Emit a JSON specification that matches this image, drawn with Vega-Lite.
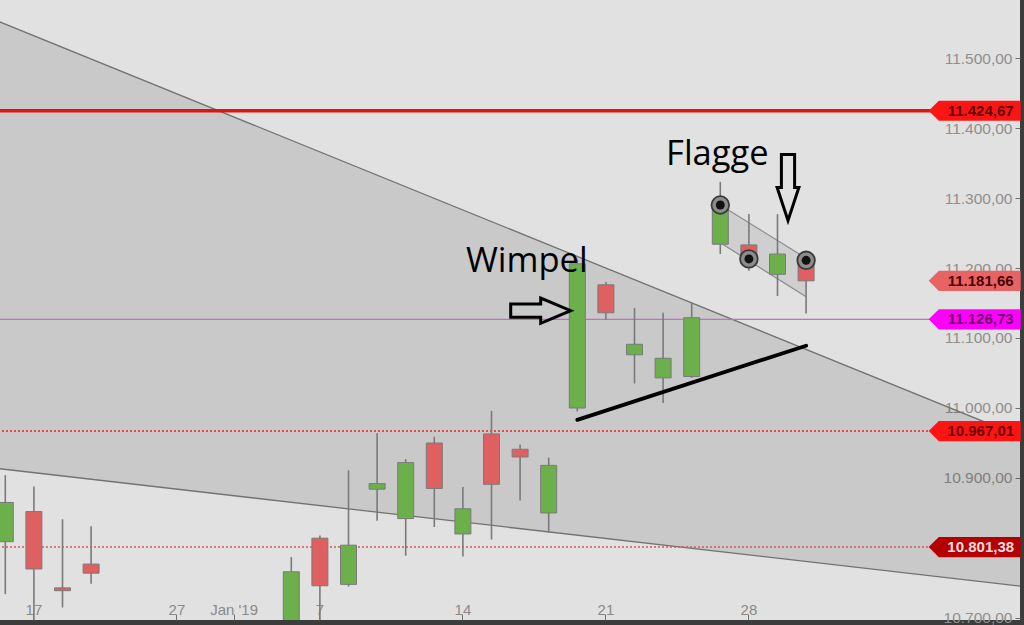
{
  "$schema": "https://vega.github.io/schema/vega-lite/v6.json",
  "width": 1020,
  "height": 620,
  "autosize": {"type": "none"},
  "padding": {"left": 0, "top": 0, "right": 4, "bottom": 5},
  "background": "#3c3c3c",
  "config": {
    "view": {"stroke": null, "fill": "#e1e1e1"},
    "locale": {"number": {"decimal": ",", "thousands": ".", "grouping": [3], "currency": ["", " €"]}},
    "font": "Liberation Sans"
  },
  "datasets": {
    "candles": [
      {"date": "2018-12-14", "open": 10809, "high": 10904, "low": 10734, "close": 10865},
      {"date": "2018-12-17", "open": 10852, "high": 10888, "low": 10690, "close": 10770},
      {"date": "2018-12-18", "open": 10743, "high": 10841, "low": 10715, "close": 10739},
      {"date": "2018-12-19", "open": 10777, "high": 10831, "low": 10749, "close": 10764},
      {"date": "2019-01-04", "open": 10470, "high": 10787, "low": 10450, "close": 10766},
      {"date": "2019-01-07", "open": 10814, "high": 10818, "low": 10692, "close": 10746},
      {"date": "2019-01-08", "open": 10748, "high": 10911, "low": 10745, "close": 10804},
      {"date": "2019-01-09", "open": 10884, "high": 10964, "low": 10839, "close": 10892},
      {"date": "2019-01-10", "open": 10842, "high": 10927, "low": 10789, "close": 10922},
      {"date": "2019-01-11", "open": 10950, "high": 10959, "low": 10830, "close": 10885},
      {"date": "2019-01-14", "open": 10820, "high": 10887, "low": 10788, "close": 10856},
      {"date": "2019-01-15", "open": 10963, "high": 10996, "low": 10812, "close": 10891},
      {"date": "2019-01-16", "open": 10941, "high": 10948, "low": 10868, "close": 10930},
      {"date": "2019-01-17", "open": 10850, "high": 10929, "low": 10822, "close": 10918},
      {"date": "2019-01-18", "open": 11000, "high": 11212, "low": 10995, "close": 11206},
      {"date": "2019-01-21", "open": 11176, "high": 11180, "low": 11126, "close": 11136},
      {"date": "2019-01-22", "open": 11076, "high": 11143, "low": 11035, "close": 11091},
      {"date": "2019-01-23", "open": 11043, "high": 11136, "low": 11007, "close": 11071},
      {"date": "2019-01-24", "open": 11045, "high": 11150, "low": 11043, "close": 11129},
      {"date": "2019-01-25", "open": 11234, "high": 11323, "low": 11220, "close": 11283},
      {"date": "2019-01-28", "open": 11233, "high": 11277, "low": 11196, "close": 11210},
      {"date": "2019-01-29", "open": 11191, "high": 11277, "low": 11160, "close": 11220},
      {"date": "2019-01-30", "open": 11207, "high": 11222, "low": 11135, "close": 11181.66}
    ],
    "channel": [
      {"date": "2018-12-13", "upper": 11565, "lower": 10917},
      {"date": "2019-02-11", "upper": 10951, "lower": 10743}
    ],
    "flag": [
      {"date": "2019-01-25", "top": 11290, "bottom": 11236},
      {"date": "2019-01-30", "top": 11214, "bottom": 11159}
    ],
    "markers": [
      {"date": "2019-01-25", "value": 11290},
      {"date": "2019-01-28", "value": 11213},
      {"date": "2019-01-30", "value": 11211}
    ],
    "trend": [
      {"date": "2019-01-18", "value": 10983},
      {"date": "2019-01-30", "value": 11089}
    ],
    "levels": [
      {"name": "res", "value": 11424.67},
      {"name": "last", "value": 11181.66},
      {"name": "pivot", "value": 11126.73},
      {"name": "sup1", "value": 10967.01},
      {"name": "sup2", "value": 10801.38}
    ],
    "arrows": [
      {"name": "wimpel", "date": "2019-01-17", "value": 11139},
      {"name": "flagge", "date": "2019-01-29", "value": 11315}
    ],
    "notes": [
      {"label": "Wimpel", "date": "2019-01-14", "value": 11194},
      {"label": "Flagge", "date": "2019-01-23", "value": 11347}
    ]
  },
  "layer": [
    {
      "data": {"name": "channel"},
      "mark": {"type": "area", "fill": "#000000", "fillOpacity": 0.105, "clip": true},
      "encoding": {
        "x": {
          "field": "date", "type": "ordinal", "bandPosition": 0.5, "title": null,
          "scale": {
            "type": "band",
            "domain": ["2018-12-13","2018-12-14","2018-12-17","2018-12-18","2018-12-19","2018-12-20","2018-12-21","2018-12-27","2018-12-28","2019-01-02","2019-01-03","2019-01-04","2019-01-07","2019-01-08","2019-01-09","2019-01-10","2019-01-11","2019-01-14","2019-01-15","2019-01-16","2019-01-17","2019-01-18","2019-01-21","2019-01-22","2019-01-23","2019-01-24","2019-01-25","2019-01-28","2019-01-29","2019-01-30","2019-01-31","2019-02-01","2019-02-04","2019-02-05","2019-02-06","2019-02-07","2019-02-08","2019-02-11"],
            "range": [-37.6, 1049.2],
            "paddingInner": 0,
            "paddingOuter": 0
          },
          "axis": {
            "orient": "bottom",
            "values": ["2018-12-17","2018-12-27","2019-01-02","2019-01-07","2019-01-14","2019-01-21","2019-01-28"],
            "labelExpr": "datum.value == '2019-01-02' ? \"Jan '19\" : '' + toNumber(substring(datum.value, 8, 10))",
            "domain": false,
            "grid": false,
            "tickSize": -6,
            "tickColor": "#707070",
            "tickWidth": 1,
            "labelColor": "#8a8a8a",
            "labelFontSize": 15,
            "labelFont": "Liberation Sans",
            "labelPadding": 0,
            "labelBaseline": "alphabetic",
            "labelAngle": 0,
            "labelOverlap": false,
            "labelFlush": false
          }
        },
        "y": {
          "field": "upper", "type": "quantitative", "title": null,
          "scale": {"domain": [10697.1, 11582.9], "nice": false, "zero": false},
          "axis": {
            "orient": "right",
            "values": [10700, 10900, 11000, 11100, 11200, 11300, 11400, 11500],
            "format": ",.2f",
            "domain": false,
            "grid": false,
            "tickSize": -5,
            "tickColor": "#707070",
            "labelAlign": "right",
            "labelBaseline": "middle",
            "labelPadding": -3,
            "labelColor": "#8f8f8f",
            "labelFontSize": 15.5,
            "labelFont": "Liberation Sans",
            "labelFlush": false,
            "labelOverlap": false
          }
        },
        "y2": {"field": "lower"}
      }
    },
    {
      "data": {"name": "channel"},
      "mark": {"type": "line", "stroke": "#727272", "strokeWidth": 1.3, "clip": true},
      "encoding": {
        "x": {"field": "date", "type": "ordinal", "bandPosition": 0.5, "title": null},
        "y": {"field": "upper", "type": "quantitative", "title": null}
      }
    },
    {
      "data": {"name": "channel"},
      "mark": {"type": "line", "stroke": "#727272", "strokeWidth": 1.3, "clip": true},
      "encoding": {
        "x": {"field": "date", "type": "ordinal", "bandPosition": 0.5, "title": null},
        "y": {"field": "lower", "type": "quantitative", "title": null}
      }
    },
    {
      "data": {"name": "levels"},
      "transform": [{"filter": "datum.name == 'res'"}],
      "mark": {"type": "rule", "stroke": "#dc1414", "strokeWidth": 3.5},
      "encoding": {"y": {"field": "value", "type": "quantitative", "title": null}}
    },
    {
      "data": {"name": "levels"},
      "transform": [{"filter": "datum.name == 'pivot'"}],
      "mark": {"type": "rule", "stroke": "#d066d0", "strokeWidth": 1.2},
      "encoding": {"y": {"field": "value", "type": "quantitative", "title": null}}
    },
    {
      "data": {"name": "levels"},
      "transform": [{"filter": "datum.name == 'sup1'"}],
      "mark": {"type": "rule", "stroke": "#e04a4a", "strokeWidth": 2, "strokeDash": [2, 2]},
      "encoding": {"y": {"field": "value", "type": "quantitative", "title": null}}
    },
    {
      "data": {"name": "levels"},
      "transform": [{"filter": "datum.name == 'sup2'"}],
      "mark": {"type": "rule", "stroke": "#d05a5a", "strokeWidth": 1.4, "strokeDash": [2, 2]},
      "encoding": {"y": {"field": "value", "type": "quantitative", "title": null}}
    },
    {
      "data": {"name": "flag"},
      "mark": {"type": "area", "fill": "#000000", "fillOpacity": 0.08},
      "encoding": {
        "x": {"field": "date", "type": "ordinal", "bandPosition": 0.5, "title": null},
        "y": {"field": "top", "type": "quantitative", "title": null},
        "y2": {"field": "bottom"}
      }
    },
    {
      "data": {"name": "flag"},
      "mark": {"type": "line", "stroke": "#8a8a8a", "strokeWidth": 1.2},
      "encoding": {
        "x": {"field": "date", "type": "ordinal", "bandPosition": 0.5, "title": null},
        "y": {"field": "top", "type": "quantitative", "title": null}
      }
    },
    {
      "data": {"name": "flag"},
      "mark": {"type": "line", "stroke": "#8a8a8a", "strokeWidth": 1.2},
      "encoding": {
        "x": {"field": "date", "type": "ordinal", "bandPosition": 0.5, "title": null},
        "y": {"field": "bottom", "type": "quantitative", "title": null}
      }
    },
    {
      "data": {"name": "candles"},
      "mark": {"type": "rule", "stroke": "#7a7a7a", "strokeWidth": 1.6, "clip": true},
      "encoding": {
        "x": {"field": "date", "type": "ordinal", "bandPosition": 0.5, "title": null},
        "y": {"field": "low", "type": "quantitative", "title": null},
        "y2": {"field": "high"}
      }
    },
    {
      "data": {"name": "candles"},
      "mark": {"type": "bar", "width": 16, "stroke": "#7a7a7a", "strokeWidth": 1, "clip": true},
      "encoding": {
        "x": {"field": "date", "type": "ordinal", "title": null},
        "y": {"field": "open", "type": "quantitative", "title": null},
        "y2": {"field": "close"},
        "fill": {"condition": {"test": "datum.close >= datum.open", "value": "#6cb04c"}, "value": "#df6060"}
      }
    },
    {
      "data": {"name": "trend"},
      "mark": {"type": "line", "stroke": "#000000", "strokeWidth": 3.8, "strokeCap": "round"},
      "encoding": {
        "x": {"field": "date", "type": "ordinal", "bandPosition": 0.5, "title": null},
        "y": {"field": "value", "type": "quantitative", "title": null}
      }
    },
    {
      "data": {"name": "markers"},
      "mark": {"type": "point", "filled": true, "size": 310, "fill": "#8c8c8c", "stroke": "#3a3a3a", "strokeWidth": 1.8, "opacity": 1},
      "encoding": {
        "x": {"field": "date", "type": "ordinal", "bandPosition": 0.5, "title": null},
        "y": {"field": "value", "type": "quantitative", "title": null}
      }
    },
    {
      "data": {"name": "markers"},
      "mark": {"type": "point", "filled": true, "size": 80, "fill": "#111111", "opacity": 1},
      "encoding": {
        "x": {"field": "date", "type": "ordinal", "bandPosition": 0.5, "title": null},
        "y": {"field": "value", "type": "quantitative", "title": null}
      }
    },
    {
      "data": {"name": "arrows"},
      "transform": [{"filter": "datum.name == 'wimpel'"}],
      "mark": {"type": "point", "filled": false, "size": 3600, "xOffset": -8, "stroke": "#000000", "strokeWidth": 3, "opacity": 1,
        "shape": "M-1,-0.22 L0,-0.22 L0,-0.42 L1,0 L0,0.42 L0,0.22 L-1,0.22 Z"},
      "encoding": {
        "x": {"field": "date", "type": "ordinal", "bandPosition": 0.5, "title": null},
        "y": {"field": "value", "type": "quantitative", "title": null}
      }
    },
    {
      "data": {"name": "arrows"},
      "transform": [{"filter": "datum.name == 'flagge'"}],
      "mark": {"type": "point", "filled": false, "size": 4356, "xOffset": 10.5, "stroke": "#000000", "strokeWidth": 3, "opacity": 1,
        "shape": "M-0.2,-1 L0.2,-1 L0.2,0 L0.33,0 L0,1 L-0.33,0 L-0.2,0 Z"},
      "encoding": {
        "x": {"field": "date", "type": "ordinal", "bandPosition": 0.5, "title": null},
        "y": {"field": "value", "type": "quantitative", "title": null}
      }
    },
    {
      "data": {"name": "notes"},
      "mark": {"type": "text", "font": "Open Sans", "fontSize": 34.5, "color": "#000000", "align": "left", "baseline": "alphabetic", "dx": 3},
      "encoding": {
        "x": {"field": "date", "type": "ordinal", "bandPosition": 0.5, "title": null},
        "y": {"field": "value", "type": "quantitative", "title": null},
        "text": {"field": "label"}
      }
    },
    {
      "data": {"name": "levels"},
      "mark": {"type": "point", "filled": true, "size": 8464, "xOffset": -3, "strokeWidth": 0, "opacity": 1,
        "shape": "M-1,0 L-0.78,-0.22 L1,-0.22 L1,0.22 L-0.78,0.22 Z"},
      "encoding": {
        "x": {"datum": "2019-02-07", "type": "ordinal", "bandPosition": 0.5, "title": null},
        "y": {"field": "value", "type": "quantitative", "title": null},
        "fill": {"field": "name", "type": "nominal", "legend": null,
          "scale": {"domain": ["res", "last", "pivot", "sup1", "sup2"], "range": ["#ff1414", "#e86464", "#ff00ff", "#ff1414", "#b40000"]}}
      }
    },
    {
      "data": {"name": "levels"},
      "mark": {"type": "text", "font": "Liberation Sans", "fontSize": 15, "fontWeight": "bold", "align": "center", "baseline": "middle", "dx": 3},
      "encoding": {
        "x": {"datum": "2019-02-07", "type": "ordinal", "bandPosition": 0.5, "title": null},
        "y": {"field": "value", "type": "quantitative", "title": null},
        "text": {"field": "value", "type": "quantitative", "format": ",.2f"},
        "color": {"field": "name", "type": "nominal", "legend": null,
          "scale": {"domain": ["res", "last", "pivot", "sup1", "sup2"], "range": ["#5c0000", "#4a0000", "#6a006a", "#6a0000", "#ffdede"]}}
      }
    }
  ]
}
